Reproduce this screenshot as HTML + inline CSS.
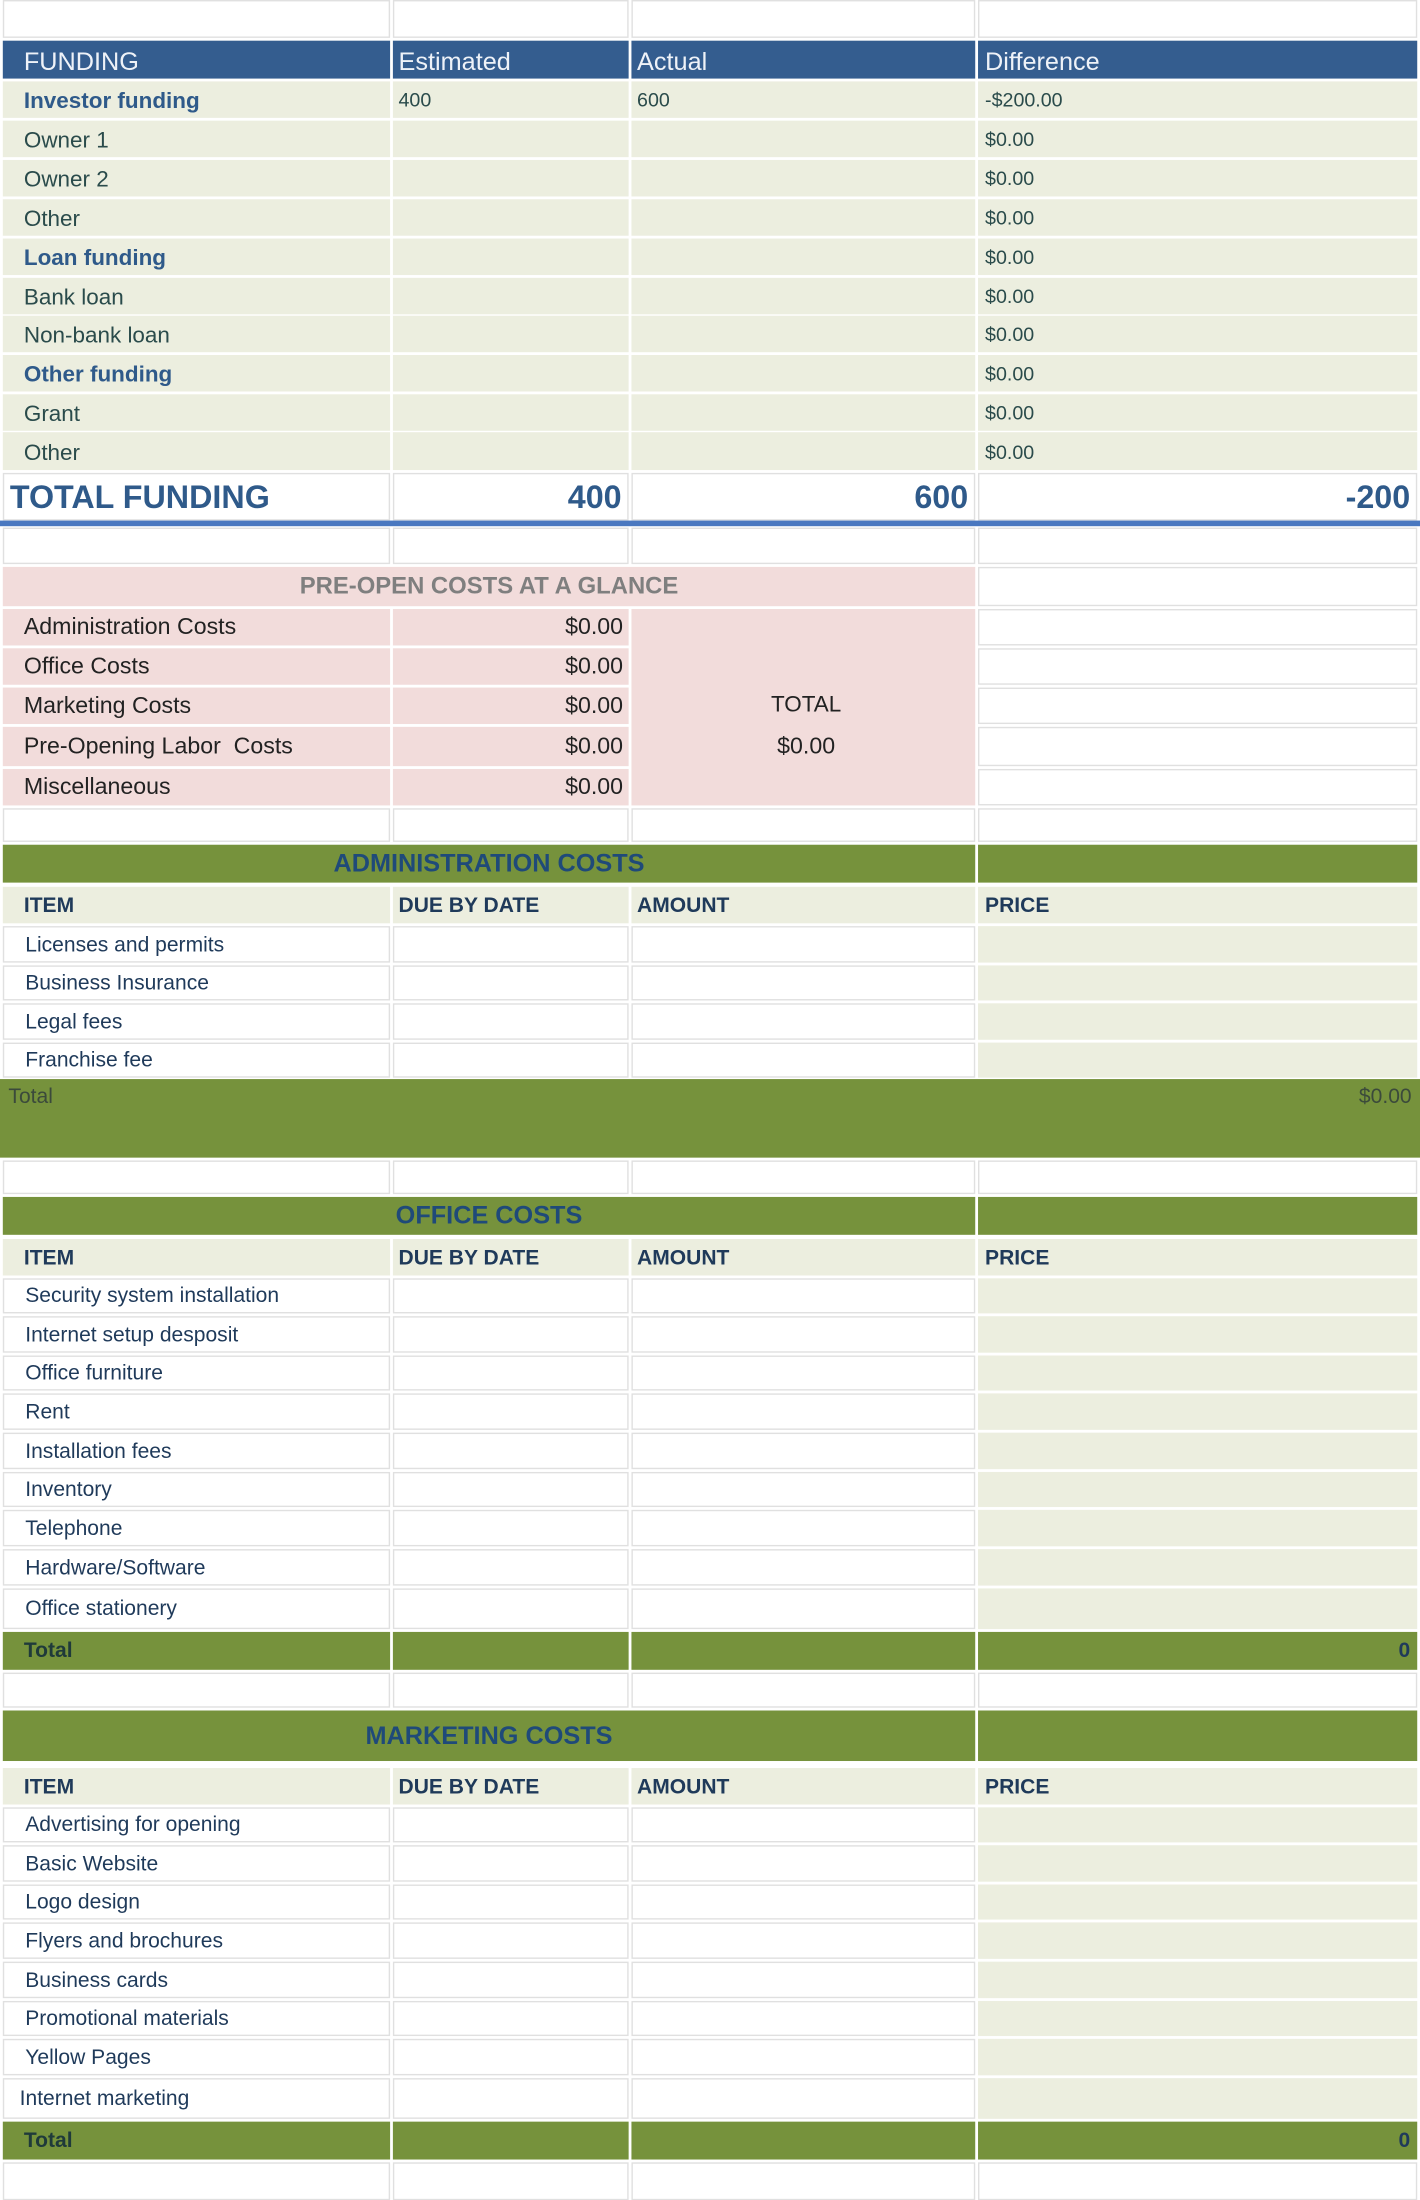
<!DOCTYPE html>
<html><head><meta charset="utf-8"><style>
html,body{margin:0;padding:0;background:#fff;}
body{width:1420px;height:2200px;overflow:hidden;}
#w{position:absolute;left:0;top:0;width:1012px;height:1568px;transform:scale(1.4032,1.4032);transform-origin:0 0;font-family:"Liberation Sans",sans-serif;}
.r{position:absolute;left:0;width:1012px;}
.r>div{position:absolute;top:0;bottom:0;box-sizing:border-box;white-space:nowrap;overflow:hidden;display:flex;align-items:center;}
.a{left:2px;width:276px;padding-left:15px;}
.b{left:280px;width:168px;padding-left:4px;}
.c{left:450px;width:245px;padding-left:4px;}
.d{left:697px;width:313px;padding-left:5px;}
.e{border:1px solid #e0e0e0;}
.bg{background:#eceedf;}
.f{font-size:16px;color:#2a4b4b;padding-top:4px;}
.fb{font-size:16px;color:#2f5a8a;font-weight:bold;padding-top:4px;}
.n{font-size:14px;color:#2a4b4b;}
.pk{background:#f2dcdb;font-size:16.5px;color:#222;}
.pr{justify-content:flex-end;padding-right:4px;}
.g{background:#76923c;}
.it{font-size:15px;color:#1f3a5a;}
.hd{font-size:15px;color:#1f3a5a;font-weight:bold;}
.gt{font-size:18px;color:#1f4a79;font-weight:bold;}
</style></head><body><div id="w">

<div class="r" style="top:0;height:27px"><div class="a e"></div><div class="b e"></div><div class="c e"></div><div class="d e"></div></div>
<div class="r" style="top:29px;height:27px;color:#eef2f8;font-size:18px">
<div class="a" style="background:#345d8f;padding-top:4px">FUNDING</div><div class="b" style="background:#345d8f;padding-top:4px">Estimated</div><div class="c" style="background:#345d8f;padding-top:4px">Actual</div><div class="d" style="background:#345d8f;padding-top:4px">Difference</div></div>

<div class="r" style="top:58px;height:26px"><div class="a bg fb">Investor funding</div><div class="b bg n">400</div><div class="c bg n">600</div><div class="d bg n">-$200.00</div></div>
<div class="r" style="top:86px;height:26px"><div class="a bg f">Owner 1</div><div class="b bg"></div><div class="c bg"></div><div class="d bg n">$0.00</div></div>
<div class="r" style="top:114px;height:26px"><div class="a bg f">Owner 2</div><div class="b bg"></div><div class="c bg"></div><div class="d bg n">$0.00</div></div>
<div class="r" style="top:142px;height:26px"><div class="a bg f">Other</div><div class="b bg"></div><div class="c bg"></div><div class="d bg n">$0.00</div></div>
<div class="r" style="top:170px;height:26px"><div class="a bg fb">Loan funding</div><div class="b bg"></div><div class="c bg"></div><div class="d bg n">$0.00</div></div>
<div class="r" style="top:198px;height:26px"><div class="a bg f">Bank loan</div><div class="b bg"></div><div class="c bg"></div><div class="d bg n">$0.00</div></div>
<div class="r" style="top:225px;height:26px"><div class="a bg f">Non-bank loan</div><div class="b bg"></div><div class="c bg"></div><div class="d bg n">$0.00</div></div>
<div class="r" style="top:253px;height:26px"><div class="a bg fb">Other funding</div><div class="b bg"></div><div class="c bg"></div><div class="d bg n">$0.00</div></div>
<div class="r" style="top:281px;height:26px"><div class="a bg f">Grant</div><div class="b bg"></div><div class="c bg"></div><div class="d bg n">$0.00</div></div>
<div class="r" style="top:308px;height:27px"><div class="a bg f">Other</div><div class="b bg"></div><div class="c bg"></div><div class="d bg n">$0.00</div></div>

<div class="r" style="top:337px;height:34px;font-size:23px;font-weight:bold;color:#2f5a8a">
<div class="a e" style="padding-left:4px">TOTAL FUNDING</div><div class="b e" style="justify-content:flex-end;padding-right:4px">400</div><div class="c e" style="justify-content:flex-end;padding-right:4px">600</div><div class="d e" style="justify-content:flex-end;padding-right:4px">-200</div></div>
<div style="position:absolute;left:0;top:371px;width:1012px;height:4px;background:#4a78c0"></div>
<div class="r" style="top:376px;height:26px"><div class="a e"></div><div class="b e"></div><div class="c e"></div><div class="d e"></div></div>

<div class="r" style="top:404px;height:28px"><div class="pk" style="left:2px;width:693px;justify-content:center;font-weight:bold;color:#7f7f7f;font-size:17px">PRE-OPEN COSTS AT A GLANCE</div><div class="d e"></div></div>
<div style="position:absolute;left:450px;top:434px;width:245px;height:140px;background:#f2dcdb"></div>
<div class="r" style="top:434px;height:26px"><div class="a pk">Administration Costs</div><div class="b pk pr">$0.00</div><div class="d e"></div></div>
<div class="r" style="top:462px;height:26px"><div class="a pk">Office Costs</div><div class="b pk pr">$0.00</div><div class="d e"></div></div>
<div class="r" style="top:490px;height:26px"><div class="a pk">Marketing Costs</div><div class="b pk pr">$0.00</div><div class="c" style="justify-content:center;font-size:16px;color:#222">TOTAL</div><div class="d e"></div></div>
<div class="r" style="top:518px;height:28px"><div class="a pk">Pre-Opening Labor&nbsp; Costs</div><div class="b pk pr">$0.00</div><div class="c" style="justify-content:center;font-size:16.5px;color:#222">$0.00</div><div class="d e"></div></div>
<div class="r" style="top:548px;height:26px"><div class="a pk">Miscellaneous</div><div class="b pk pr">$0.00</div><div class="d e"></div></div>
<div class="r" style="top:576px;height:24px"><div class="a e"></div><div class="b e"></div><div class="c e"></div><div class="d e"></div></div>

<div class="r" style="top:602px;height:27px"><div class="g gt" style="left:2px;width:693px;justify-content:center">ADMINISTRATION COSTS</div><div class="d g"></div></div>
<div class="r" style="top:632px;height:26px"><div class="a bg hd">ITEM</div><div class="b bg hd">DUE BY DATE</div><div class="c bg hd">AMOUNT</div><div class="d bg hd">PRICE</div></div>
<div class="r" style="top:660px;height:26px"><div class="a it e">Licenses and permits</div><div class="b e"></div><div class="c e"></div><div class="d bg"></div></div>
<div class="r" style="top:688px;height:25px"><div class="a it e">Business Insurance</div><div class="b e"></div><div class="c e"></div><div class="d bg"></div></div>
<div class="r" style="top:715px;height:26px"><div class="a it e">Legal fees</div><div class="b e"></div><div class="c e"></div><div class="d bg"></div></div>
<div class="r" style="top:743px;height:25px"><div class="a it e">Franchise fee</div><div class="b e"></div><div class="c e"></div><div class="d bg"></div></div>
<div class="r g" style="top:769px;height:56px"><div style="left:6px;top:4px;bottom:auto;font-size:15px;color:#3b4a3b">Total</div><div style="right:6px;top:4px;bottom:auto;font-size:15px;color:#3b4a3b">$0.00</div></div>
<div class="r" style="top:827px;height:24px"><div class="a e"></div><div class="b e"></div><div class="c e"></div><div class="d e"></div></div>

<div class="r" style="top:853px;height:27px"><div class="g gt" style="left:2px;width:693px;justify-content:center">OFFICE COSTS</div><div class="d g"></div></div>
<div class="r" style="top:883px;height:26px"><div class="a bg hd">ITEM</div><div class="b bg hd">DUE BY DATE</div><div class="c bg hd">AMOUNT</div><div class="d bg hd">PRICE</div></div>
<div class="r" style="top:911px;height:25px"><div class="a it e">Security system installation</div><div class="b e"></div><div class="c e"></div><div class="d bg"></div></div>
<div class="r" style="top:938px;height:26px"><div class="a it e">Internet setup desposit</div><div class="b e"></div><div class="c e"></div><div class="d bg"></div></div>
<div class="r" style="top:966px;height:25px"><div class="a it e">Office furniture</div><div class="b e"></div><div class="c e"></div><div class="d bg"></div></div>
<div class="r" style="top:993px;height:26px"><div class="a it e">Rent</div><div class="b e"></div><div class="c e"></div><div class="d bg"></div></div>
<div class="r" style="top:1021px;height:26px"><div class="a it e">Installation fees</div><div class="b e"></div><div class="c e"></div><div class="d bg"></div></div>
<div class="r" style="top:1049px;height:25px"><div class="a it e">Inventory</div><div class="b e"></div><div class="c e"></div><div class="d bg"></div></div>
<div class="r" style="top:1076px;height:26px"><div class="a it e">Telephone</div><div class="b e"></div><div class="c e"></div><div class="d bg"></div></div>
<div class="r" style="top:1104px;height:26px"><div class="a it e">Hardware/Software</div><div class="b e"></div><div class="c e"></div><div class="d bg"></div></div>
<div class="r" style="top:1132px;height:29px"><div class="a it e">Office stationery</div><div class="b e"></div><div class="c e"></div><div class="d bg"></div></div>
<div class="r" style="top:1163px;height:27px"><div class="a g" style="font-size:15px;font-weight:bold;color:#1f3a3a">Total</div><div class="b g"></div><div class="c g"></div><div class="d g" style="justify-content:flex-end;padding-right:5px;font-size:15px;font-weight:bold;color:#1f3a5a">0</div></div>
<div class="r" style="top:1192px;height:25px"><div class="a e"></div><div class="b e"></div><div class="c e"></div><div class="d e"></div></div>

<div class="r" style="top:1219px;height:36px"><div class="g gt" style="left:2px;width:693px;justify-content:center">MARKETING COSTS</div><div class="d g"></div></div>
<div class="r" style="top:1260px;height:26px"><div class="a bg hd">ITEM</div><div class="b bg hd">DUE BY DATE</div><div class="c bg hd">AMOUNT</div><div class="d bg hd">PRICE</div></div>
<div class="r" style="top:1288px;height:25px"><div class="a it e">Advertising for opening</div><div class="b e"></div><div class="c e"></div><div class="d bg"></div></div>
<div class="r" style="top:1315px;height:26px"><div class="a it e">Basic Website</div><div class="b e"></div><div class="c e"></div><div class="d bg"></div></div>
<div class="r" style="top:1343px;height:25px"><div class="a it e">Logo design</div><div class="b e"></div><div class="c e"></div><div class="d bg"></div></div>
<div class="r" style="top:1370px;height:26px"><div class="a it e">Flyers and brochures</div><div class="b e"></div><div class="c e"></div><div class="d bg"></div></div>
<div class="r" style="top:1398px;height:26px"><div class="a it e">Business cards</div><div class="b e"></div><div class="c e"></div><div class="d bg"></div></div>
<div class="r" style="top:1426px;height:25px"><div class="a it e">Promotional materials</div><div class="b e"></div><div class="c e"></div><div class="d bg"></div></div>
<div class="r" style="top:1453px;height:26px"><div class="a it e">Yellow Pages</div><div class="b e"></div><div class="c e"></div><div class="d bg"></div></div>
<div class="r" style="top:1481px;height:29px"><div class="a it e" style="padding-left:11px">Internet marketing</div><div class="b e"></div><div class="c e"></div><div class="d bg"></div></div>
<div class="r" style="top:1512px;height:27px"><div class="a g" style="font-size:15px;font-weight:bold;color:#1f3a3a">Total</div><div class="b g"></div><div class="c g"></div><div class="d g" style="justify-content:flex-end;padding-right:5px;font-size:15px;font-weight:bold;color:#1f3a5a">0</div></div>
<div class="r" style="top:1541px;height:27px"><div class="a e"></div><div class="b e"></div><div class="c e"></div><div class="d e"></div></div>

</div></body></html>
